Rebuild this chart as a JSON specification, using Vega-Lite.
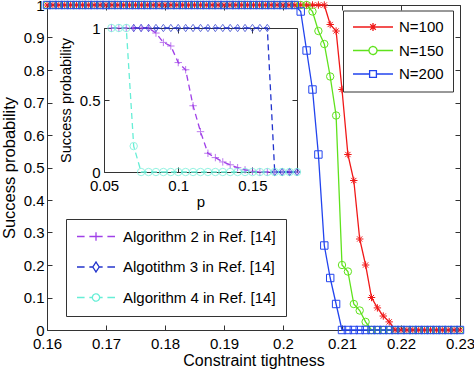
{
"$schema": "https://vega.github.io/schema/vega-lite/v6.json",
"width": 413, "height": 325,
"autosize": {"type": "none"},
"padding": {"left": 47, "top": 5, "right": 14, "bottom": 40},
"background": "white",
"config": {
 "font": "Liberation Sans",
 "view": {"stroke": null},
 "axis": {"labelFont": "Liberation Sans", "labelFontSize": 15, "labelColor": "#000", "titleFont": "Liberation Sans", "titleFontWeight": "normal", "titleColor": "#000", "domainColor": "#333", "tickColor": "#333", "tickSize": -5, "grid": false, "labelFlush": false, "labelOverlap": false, "domainWidth": 1, "tickWidth": 1}
},
"datasets": {
"main": [
{"s":"N=100","x":0.16,"y":1},{"s":"N=100","x":0.161,"y":1},{"s":"N=100","x":0.162,"y":1},{"s":"N=100","x":0.163,"y":1},{"s":"N=100","x":0.164,"y":1},{"s":"N=100","x":0.165,"y":1},{"s":"N=100","x":0.166,"y":1},{"s":"N=100","x":0.167,"y":1},{"s":"N=100","x":0.168,"y":1},{"s":"N=100","x":0.169,"y":1},
{"s":"N=100","x":0.17,"y":1},{"s":"N=100","x":0.171,"y":1},{"s":"N=100","x":0.172,"y":1},{"s":"N=100","x":0.173,"y":1},{"s":"N=100","x":0.174,"y":1},{"s":"N=100","x":0.175,"y":1},{"s":"N=100","x":0.176,"y":1},{"s":"N=100","x":0.177,"y":1},{"s":"N=100","x":0.178,"y":1},{"s":"N=100","x":0.179,"y":1},
{"s":"N=100","x":0.18,"y":1},{"s":"N=100","x":0.181,"y":1},{"s":"N=100","x":0.182,"y":1},{"s":"N=100","x":0.183,"y":1},{"s":"N=100","x":0.184,"y":1},{"s":"N=100","x":0.185,"y":1},{"s":"N=100","x":0.186,"y":1},{"s":"N=100","x":0.187,"y":1},{"s":"N=100","x":0.188,"y":1},{"s":"N=100","x":0.189,"y":1},
{"s":"N=100","x":0.19,"y":1},{"s":"N=100","x":0.191,"y":1},{"s":"N=100","x":0.192,"y":1},{"s":"N=100","x":0.193,"y":1},{"s":"N=100","x":0.194,"y":1},{"s":"N=100","x":0.195,"y":1},{"s":"N=100","x":0.196,"y":1},{"s":"N=100","x":0.197,"y":1},{"s":"N=100","x":0.198,"y":1},{"s":"N=100","x":0.199,"y":1},
{"s":"N=100","x":0.2,"y":1},{"s":"N=100","x":0.201,"y":1},{"s":"N=100","x":0.202,"y":1},{"s":"N=100","x":0.203,"y":1},{"s":"N=100","x":0.204,"y":1},{"s":"N=100","x":0.205,"y":1},{"s":"N=100","x":0.206,"y":1},{"s":"N=100","x":0.207,"y":1},{"s":"N=100","x":0.208,"y":0.94},{"s":"N=100","x":0.209,"y":0.92},
{"s":"N=100","x":0.21,"y":0.74},{"s":"N=100","x":0.211,"y":0.54},{"s":"N=100","x":0.212,"y":0.46},{"s":"N=100","x":0.213,"y":0.28},{"s":"N=100","x":0.214,"y":0.2},{"s":"N=100","x":0.215,"y":0.1},{"s":"N=100","x":0.216,"y":0.068},{"s":"N=100","x":0.217,"y":0.043},{"s":"N=100","x":0.218,"y":0.025},{"s":"N=100","x":0.219,"y":0},
{"s":"N=100","x":0.22,"y":0},{"s":"N=100","x":0.221,"y":0},{"s":"N=100","x":0.222,"y":0},{"s":"N=100","x":0.223,"y":0},{"s":"N=100","x":0.224,"y":0},{"s":"N=100","x":0.225,"y":0},{"s":"N=100","x":0.226,"y":0},{"s":"N=100","x":0.227,"y":0},{"s":"N=100","x":0.228,"y":0},{"s":"N=100","x":0.229,"y":0},{"s":"N=100","x":0.23,"y":0},
{"s":"N=150","x":0.16,"y":1},{"s":"N=150","x":0.161,"y":1},{"s":"N=150","x":0.162,"y":1},{"s":"N=150","x":0.163,"y":1},{"s":"N=150","x":0.164,"y":1},{"s":"N=150","x":0.165,"y":1},{"s":"N=150","x":0.166,"y":1},{"s":"N=150","x":0.167,"y":1},{"s":"N=150","x":0.168,"y":1},{"s":"N=150","x":0.169,"y":1},
{"s":"N=150","x":0.17,"y":1},{"s":"N=150","x":0.171,"y":1},{"s":"N=150","x":0.172,"y":1},{"s":"N=150","x":0.173,"y":1},{"s":"N=150","x":0.174,"y":1},{"s":"N=150","x":0.175,"y":1},{"s":"N=150","x":0.176,"y":1},{"s":"N=150","x":0.177,"y":1},{"s":"N=150","x":0.178,"y":1},{"s":"N=150","x":0.179,"y":1},
{"s":"N=150","x":0.18,"y":1},{"s":"N=150","x":0.181,"y":1},{"s":"N=150","x":0.182,"y":1},{"s":"N=150","x":0.183,"y":1},{"s":"N=150","x":0.184,"y":1},{"s":"N=150","x":0.185,"y":1},{"s":"N=150","x":0.186,"y":1},{"s":"N=150","x":0.187,"y":1},{"s":"N=150","x":0.188,"y":1},{"s":"N=150","x":0.189,"y":1},
{"s":"N=150","x":0.19,"y":1},{"s":"N=150","x":0.191,"y":1},{"s":"N=150","x":0.192,"y":1},{"s":"N=150","x":0.193,"y":1},{"s":"N=150","x":0.194,"y":1},{"s":"N=150","x":0.195,"y":1},{"s":"N=150","x":0.196,"y":1},{"s":"N=150","x":0.197,"y":1},{"s":"N=150","x":0.198,"y":1},{"s":"N=150","x":0.199,"y":1},
{"s":"N=150","x":0.2,"y":1},{"s":"N=150","x":0.201,"y":1},{"s":"N=150","x":0.202,"y":1},{"s":"N=150","x":0.203,"y":1},{"s":"N=150","x":0.204,"y":1},{"s":"N=150","x":0.205,"y":0.98},{"s":"N=150","x":0.206,"y":0.92},{"s":"N=150","x":0.207,"y":0.88},{"s":"N=150","x":0.208,"y":0.78},{"s":"N=150","x":0.209,"y":0.66},
{"s":"N=150","x":0.21,"y":0.2},{"s":"N=150","x":0.211,"y":0.18},{"s":"N=150","x":0.212,"y":0.08},{"s":"N=150","x":0.213,"y":0.06},{"s":"N=150","x":0.214,"y":0.025},{"s":"N=150","x":0.215,"y":0},{"s":"N=150","x":0.216,"y":0},{"s":"N=150","x":0.217,"y":0},{"s":"N=150","x":0.218,"y":0},{"s":"N=150","x":0.219,"y":0},
{"s":"N=150","x":0.22,"y":0},{"s":"N=150","x":0.221,"y":0},{"s":"N=150","x":0.222,"y":0},{"s":"N=150","x":0.223,"y":0},{"s":"N=150","x":0.224,"y":0},{"s":"N=150","x":0.225,"y":0},{"s":"N=150","x":0.226,"y":0},{"s":"N=150","x":0.227,"y":0},{"s":"N=150","x":0.228,"y":0},{"s":"N=150","x":0.229,"y":0},{"s":"N=150","x":0.23,"y":0},
{"s":"N=200","x":0.16,"y":1},{"s":"N=200","x":0.161,"y":1},{"s":"N=200","x":0.162,"y":1},{"s":"N=200","x":0.163,"y":1},{"s":"N=200","x":0.164,"y":1},{"s":"N=200","x":0.165,"y":1},{"s":"N=200","x":0.166,"y":1},{"s":"N=200","x":0.167,"y":1},{"s":"N=200","x":0.168,"y":1},{"s":"N=200","x":0.169,"y":1},
{"s":"N=200","x":0.17,"y":1},{"s":"N=200","x":0.171,"y":1},{"s":"N=200","x":0.172,"y":1},{"s":"N=200","x":0.173,"y":1},{"s":"N=200","x":0.174,"y":1},{"s":"N=200","x":0.175,"y":1},{"s":"N=200","x":0.176,"y":1},{"s":"N=200","x":0.177,"y":1},{"s":"N=200","x":0.178,"y":1},{"s":"N=200","x":0.179,"y":1},
{"s":"N=200","x":0.18,"y":1},{"s":"N=200","x":0.181,"y":1},{"s":"N=200","x":0.182,"y":1},{"s":"N=200","x":0.183,"y":1},{"s":"N=200","x":0.184,"y":1},{"s":"N=200","x":0.185,"y":1},{"s":"N=200","x":0.186,"y":1},{"s":"N=200","x":0.187,"y":1},{"s":"N=200","x":0.188,"y":1},{"s":"N=200","x":0.189,"y":1},
{"s":"N=200","x":0.19,"y":1},{"s":"N=200","x":0.191,"y":1},{"s":"N=200","x":0.192,"y":1},{"s":"N=200","x":0.193,"y":1},{"s":"N=200","x":0.194,"y":1},{"s":"N=200","x":0.195,"y":1},{"s":"N=200","x":0.196,"y":1},{"s":"N=200","x":0.197,"y":1},{"s":"N=200","x":0.198,"y":1},{"s":"N=200","x":0.199,"y":1},
{"s":"N=200","x":0.2,"y":1},{"s":"N=200","x":0.201,"y":1},{"s":"N=200","x":0.202,"y":1},{"s":"N=200","x":0.203,"y":0.98},{"s":"N=200","x":0.204,"y":0.86},{"s":"N=200","x":0.205,"y":0.74},{"s":"N=200","x":0.206,"y":0.54},{"s":"N=200","x":0.207,"y":0.26},{"s":"N=200","x":0.208,"y":0.16},{"s":"N=200","x":0.209,"y":0.08},
{"s":"N=200","x":0.21,"y":0},{"s":"N=200","x":0.211,"y":0},{"s":"N=200","x":0.212,"y":0},{"s":"N=200","x":0.213,"y":0},{"s":"N=200","x":0.214,"y":0},{"s":"N=200","x":0.215,"y":0},{"s":"N=200","x":0.216,"y":0},{"s":"N=200","x":0.217,"y":0},{"s":"N=200","x":0.218,"y":0},{"s":"N=200","x":0.219,"y":0},
{"s":"N=200","x":0.22,"y":0},{"s":"N=200","x":0.221,"y":0},{"s":"N=200","x":0.222,"y":0},{"s":"N=200","x":0.223,"y":0},{"s":"N=200","x":0.224,"y":0},{"s":"N=200","x":0.225,"y":0},{"s":"N=200","x":0.226,"y":0},{"s":"N=200","x":0.227,"y":0},{"s":"N=200","x":0.228,"y":0},{"s":"N=200","x":0.229,"y":0},{"s":"N=200","x":0.23,"y":0}
],
"inset": [
{"s":"Algorithm 2 in Ref. [14]","x":0.055,"y":1},{"s":"Algorithm 2 in Ref. [14]","x":0.06,"y":1},{"s":"Algorithm 2 in Ref. [14]","x":0.065,"y":1},{"s":"Algorithm 2 in Ref. [14]","x":0.07,"y":1},{"s":"Algorithm 2 in Ref. [14]","x":0.075,"y":1},{"s":"Algorithm 2 in Ref. [14]","x":0.08,"y":1},{"s":"Algorithm 2 in Ref. [14]","x":0.085,"y":0.965},{"s":"Algorithm 2 in Ref. [14]","x":0.09,"y":0.9},{"s":"Algorithm 2 in Ref. [14]","x":0.095,"y":0.875},{"s":"Algorithm 2 in Ref. [14]","x":0.1,"y":0.76},
{"s":"Algorithm 2 in Ref. [14]","x":0.105,"y":0.71},{"s":"Algorithm 2 in Ref. [14]","x":0.11,"y":0.46},{"s":"Algorithm 2 in Ref. [14]","x":0.115,"y":0.28},{"s":"Algorithm 2 in Ref. [14]","x":0.12,"y":0.13},{"s":"Algorithm 2 in Ref. [14]","x":0.125,"y":0.1},{"s":"Algorithm 2 in Ref. [14]","x":0.13,"y":0.07},{"s":"Algorithm 2 in Ref. [14]","x":0.135,"y":0.05},{"s":"Algorithm 2 in Ref. [14]","x":0.14,"y":0.03},{"s":"Algorithm 2 in Ref. [14]","x":0.145,"y":0.015},{"s":"Algorithm 2 in Ref. [14]","x":0.15,"y":0.005},
{"s":"Algorithm 2 in Ref. [14]","x":0.155,"y":0},{"s":"Algorithm 2 in Ref. [14]","x":0.16,"y":0},{"s":"Algorithm 2 in Ref. [14]","x":0.165,"y":0},{"s":"Algorithm 2 in Ref. [14]","x":0.17,"y":0},{"s":"Algorithm 2 in Ref. [14]","x":0.175,"y":0},{"s":"Algorithm 2 in Ref. [14]","x":0.18,"y":0},
{"s":"Algotithm 3 in Ref. [14]","x":0.07,"y":1},{"s":"Algotithm 3 in Ref. [14]","x":0.075,"y":1},{"s":"Algotithm 3 in Ref. [14]","x":0.08,"y":1},{"s":"Algotithm 3 in Ref. [14]","x":0.085,"y":1},{"s":"Algotithm 3 in Ref. [14]","x":0.09,"y":1},{"s":"Algotithm 3 in Ref. [14]","x":0.095,"y":1},{"s":"Algotithm 3 in Ref. [14]","x":0.1,"y":1},{"s":"Algotithm 3 in Ref. [14]","x":0.105,"y":1},{"s":"Algotithm 3 in Ref. [14]","x":0.11,"y":1},{"s":"Algotithm 3 in Ref. [14]","x":0.115,"y":1},
{"s":"Algotithm 3 in Ref. [14]","x":0.12,"y":1},{"s":"Algotithm 3 in Ref. [14]","x":0.125,"y":1},{"s":"Algotithm 3 in Ref. [14]","x":0.13,"y":1},{"s":"Algotithm 3 in Ref. [14]","x":0.135,"y":1},{"s":"Algotithm 3 in Ref. [14]","x":0.14,"y":1},{"s":"Algotithm 3 in Ref. [14]","x":0.145,"y":1},{"s":"Algotithm 3 in Ref. [14]","x":0.15,"y":1},{"s":"Algotithm 3 in Ref. [14]","x":0.155,"y":1},{"s":"Algotithm 3 in Ref. [14]","x":0.16,"y":1},{"s":"Algotithm 3 in Ref. [14]","x":0.165,"y":0},
{"s":"Algotithm 3 in Ref. [14]","x":0.17,"y":0},{"s":"Algotithm 3 in Ref. [14]","x":0.175,"y":0},{"s":"Algotithm 3 in Ref. [14]","x":0.18,"y":0},
{"s":"Algorithm 4 in Ref. [14]","x":0.055,"y":1},{"s":"Algorithm 4 in Ref. [14]","x":0.06,"y":1},{"s":"Algorithm 4 in Ref. [14]","x":0.065,"y":1},{"s":"Algorithm 4 in Ref. [14]","x":0.07,"y":0.18},{"s":"Algorithm 4 in Ref. [14]","x":0.075,"y":0},{"s":"Algorithm 4 in Ref. [14]","x":0.08,"y":0},{"s":"Algorithm 4 in Ref. [14]","x":0.085,"y":0},{"s":"Algorithm 4 in Ref. [14]","x":0.09,"y":0},{"s":"Algorithm 4 in Ref. [14]","x":0.095,"y":0},{"s":"Algorithm 4 in Ref. [14]","x":0.1,"y":0},
{"s":"Algorithm 4 in Ref. [14]","x":0.105,"y":0},{"s":"Algorithm 4 in Ref. [14]","x":0.11,"y":0},{"s":"Algorithm 4 in Ref. [14]","x":0.115,"y":0},{"s":"Algorithm 4 in Ref. [14]","x":0.12,"y":0},{"s":"Algorithm 4 in Ref. [14]","x":0.125,"y":0},{"s":"Algorithm 4 in Ref. [14]","x":0.13,"y":0},{"s":"Algorithm 4 in Ref. [14]","x":0.135,"y":0},{"s":"Algorithm 4 in Ref. [14]","x":0.14,"y":0},{"s":"Algorithm 4 in Ref. [14]","x":0.145,"y":0},{"s":"Algorithm 4 in Ref. [14]","x":0.15,"y":0},
{"s":"Algorithm 4 in Ref. [14]","x":0.155,"y":0},{"s":"Algorithm 4 in Ref. [14]","x":0.16,"y":0},{"s":"Algorithm 4 in Ref. [14]","x":0.165,"y":0},{"s":"Algorithm 4 in Ref. [14]","x":0.17,"y":0},{"s":"Algorithm 4 in Ref. [14]","x":0.175,"y":0},{"s":"Algorithm 4 in Ref. [14]","x":0.18,"y":0}
]
},
"layer": [
 {
  "data": {"name": "main"},
  "mark": {"type": "line", "strokeWidth": 1.3},
  "encoding": {
   "x": {"field": "x", "type": "quantitative", "scale": {"domain": [0.16, 0.23], "nice": false, "zero": false},
         "axis": {"orient": "bottom", "values": [0.16,0.17,0.18,0.19,0.2,0.21,0.22,0.23], "format": "~g", "labelPadding": 11, "title": "Constraint tightness", "titleFontSize": 16, "titlePadding": 1}},
   "y": {"field": "y", "type": "quantitative", "scale": {"domain": [0, 1], "nice": false},
         "axis": {"orient": "left", "values": [0,0.1,0.2,0.3,0.4,0.5,0.6,0.7,0.8,0.9,1], "format": "~g", "labelPadding": 8, "title": "Success probability", "titleFontSize": 16.5, "titlePadding": 6}},
   "color": {"field": "s", "type": "nominal", "scale": {"domain": ["N=100","N=150","N=200"], "range": ["#f01818","#5fe21c","#2244ee"]},
     "legend": {"orient": "none", "legendX": 296, "legendY": 5.5, "title": null, "symbolSize": 1600, "symbolStrokeWidth": 1.3, "clipHeight": 15, "rowPadding": 7.5, "padding": 9, "labelFontSize": 15, "labelFont": "Liberation Sans", "labelColor": "#000", "labelOffset": 5, "strokeColor": "#333", "fillColor": "white",
       "encode": {"symbols": {"update": {"fill": {"value": "transparent"}, "strokeDash": {"value": [1, 0]}, "shape": {"signal": "datum.value === 'N=100' ? 'M-1,0H1M-0.2,0H0.2M0,-0.2V0.2M-0.14,-0.14L0.14,0.14M-0.14,0.14L0.14,-0.14' : datum.value === 'N=150' ? 'M-1,0H-0.2M0.2,0H1M0.2,0A0.2,0.2,0,1,1,-0.2,0A0.2,0.2,0,1,1,0.2,0' : 'M-1,0H-0.17M0.17,0H1M-0.17,-0.17H0.17V0.17H-0.17Z'"}}}}}}
  }
 },
 {
  "data": {"name": "main"},
  "mark": {"type": "point", "filled": false, "strokeWidth": 1, "size": 55, "opacity": 1},
  "encoding": {
   "x": {"field": "x", "type": "quantitative", "scale": {"domain": [0.16, 0.23], "nice": false, "zero": false},
         "axis": {"orient": "top", "values": [0.16,0.17,0.18,0.19,0.2,0.21,0.22,0.23], "labels": false, "title": null}},
   "y": {"field": "y", "type": "quantitative", "scale": {"domain": [0, 1], "nice": false},
         "axis": {"orient": "right", "values": [0,0.1,0.2,0.3,0.4,0.5,0.6,0.7,0.8,0.9,1], "labels": false, "title": null}},
   "color": {"field": "s", "type": "nominal", "scale": {"domain": ["N=100","N=150","N=200"], "range": ["#f01818","#5fe21c","#2244ee"]}, "legend": null},
   "shape": {"field": "s", "type": "nominal", "scale": {"domain": ["N=100","N=150","N=200"], "range": ["M-1,0H1M0,-1V1M-0.7,-0.7L0.7,0.7M-0.7,0.7L0.7,-0.7", "circle", "square"]}, "legend": null}
  }
 },
 {
  "data": {"name": "inset"},
  "mark": {"type": "line", "strokeWidth": 1.3, "strokeDash": [6, 4]},
  "encoding": {
   "x": {"field": "x", "type": "quantitative", "scale": {"domain": [0.05, 0.18], "range": [57, 250], "nice": false, "zero": false},
         "axis": {"orient": "bottom", "offset": -158, "values": [0.05,0.1,0.15], "format": "~g", "labelPadding": 11, "title": "p", "titleFontSize": 15, "titlePadding": 1}},
   "y": {"field": "y", "type": "quantitative", "scale": {"domain": [0, 1], "range": [167, 23], "nice": false},
         "axis": {"orient": "left", "offset": -57, "values": [0,0.5,1], "format": "~g", "labelPadding": 9, "title": "Success probability", "titleFontSize": 14.5, "titlePadding": 6}},
   "color": {"field": "s", "type": "nominal", "scale": {"domain": ["Algorithm 2 in Ref. [14]","Algotithm 3 in Ref. [14]","Algorithm 4 in Ref. [14]"], "range": ["#a040e8","#2233cc","#66eed6"]},
     "legend": {"orient": "none", "legendX": 19, "legendY": 214, "title": null, "symbolSize": 1444, "symbolStrokeWidth": 1.3, "clipHeight": 15, "rowPadding": 14.5, "padding": 10, "labelFontSize": 15, "labelFont": "Liberation Sans", "labelColor": "#000", "labelOffset": 7, "labelLimit": 300, "strokeColor": "#333", "fillColor": "white",
       "labelExpr": "datum.label + '\u00a0\u00a0\u00a0'",
       "encode": {"symbols": {"update": {"fill": {"value": "transparent"}, "strokeDash": {"value": [1, 0]}, "shape": {"signal": "datum.index === 0 ? 'M-1,0H-0.6M-0.35,0H0.35M0,-0.22V0.22M0.6,0H1' : datum.index === 1 ? 'M-1,0H-0.6M0.6,0H1M-0.35,0H-0.17M0.17,0H0.35M0,-0.26L0.17,0L0,0.26L-0.17,0Z' : 'M-1,0H-0.6M0.6,0H1M-0.35,0H-0.19M0.19,0H0.35M0.19,0A0.19,0.19,0,1,1,-0.19,0A0.19,0.19,0,1,1,0.19,0'"}}}}}}
  }
 },
 {
  "data": {"name": "inset"},
  "mark": {"type": "point", "filled": false, "strokeWidth": 1, "size": 55},
  "encoding": {
   "x": {"field": "x", "type": "quantitative", "scale": {"domain": [0.05, 0.18], "range": [57, 250], "nice": false, "zero": false},
         "axis": {"orient": "top", "offset": -23, "values": [0.05,0.1,0.15], "labels": false, "title": null}},
   "y": {"field": "y", "type": "quantitative", "scale": {"domain": [0, 1], "range": [167, 23], "nice": false},
         "axis": {"orient": "right", "offset": -163, "values": [0,0.5,1], "labels": false, "title": null}},
   "color": {"field": "s", "type": "nominal", "scale": {"domain": ["Algorithm 2 in Ref. [14]","Algotithm 3 in Ref. [14]","Algorithm 4 in Ref. [14]"], "range": ["#a040e8","#2233cc","#66eed6"]}, "legend": null},
   "shape": {"field": "s", "type": "nominal", "scale": {"domain": ["Algorithm 2 in Ref. [14]","Algotithm 3 in Ref. [14]","Algorithm 4 in Ref. [14]"], "range": ["M-1,0H1M0,-1V1", "M0,-1L0.7,0L0,1L-0.7,0Z", "circle"]}, "legend": null}
  }
 }
],
"resolve": {
 "scale": {"x": "independent", "y": "independent", "color": "independent", "shape": "independent"},
 "axis": {"x": "independent", "y": "independent"},
 "legend": {"color": "independent", "shape": "independent"}
}
}
